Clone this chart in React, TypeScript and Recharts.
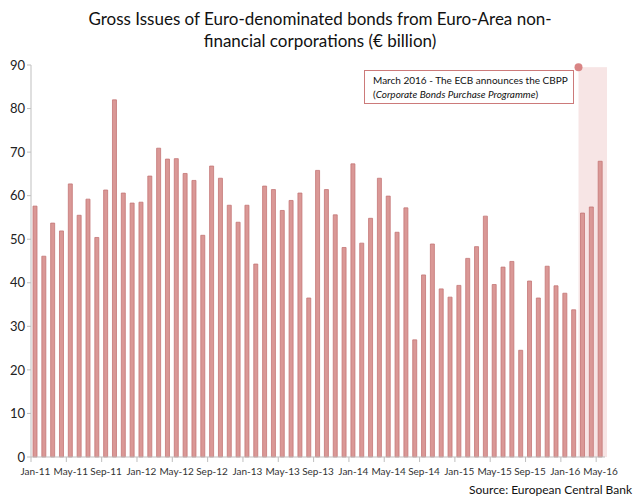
import React from "react";
import { BarChart, Bar, XAxis, YAxis, ReferenceArea } from "recharts";

const months: string[] = [
  "Jan-11","Feb-11","Mar-11","Apr-11","May-11","Jun-11","Jul-11","Aug-11","Sep-11","Oct-11","Nov-11","Dec-11",
  "Jan-12","Feb-12","Mar-12","Apr-12","May-12","Jun-12","Jul-12","Aug-12","Sep-12","Oct-12","Nov-12","Dec-12",
  "Jan-13","Feb-13","Mar-13","Apr-13","May-13","Jun-13","Jul-13","Aug-13","Sep-13","Oct-13","Nov-13","Dec-13",
  "Jan-14","Feb-14","Mar-14","Apr-14","May-14","Jun-14","Jul-14","Aug-14","Sep-14","Oct-14","Nov-14","Dec-14",
  "Jan-15","Feb-15","Mar-15","Apr-15","May-15","Jun-15","Jul-15","Aug-15","Sep-15","Oct-15","Nov-15","Dec-15",
  "Jan-16","Feb-16","Mar-16","Apr-16","May-16",
];

const issues: number[] = [
  57.6, 46.1, 53.7, 51.9, 62.7, 55.5, 59.2, 50.4, 61.3, 82.0, 60.6, 58.3,
  58.5, 64.5, 70.9, 68.4, 68.5, 65.1, 63.5, 50.9, 66.8, 64.0, 57.8, 53.9,
  57.8, 44.3, 62.2, 61.4, 56.6, 58.9, 60.6, 36.5, 65.8, 61.4, 55.6, 48.1,
  67.3, 49.1, 54.8, 64.0, 59.9, 51.6, 57.2, 26.9, 41.8, 48.9, 38.6, 36.7,
  39.4, 45.6, 48.3, 55.3, 39.6, 43.6, 44.9, 24.5, 40.4, 36.5, 43.8, 39.3,
  37.6, 33.8, 56.0, 57.4, 67.9,
];

const yTicks: number[] = [0, 10, 20, 30, 40, 50, 60, 70, 80, 90];

const data = months.map((m, i) => ({ month: m, value: issues[i] }));

const FONT = "Lato, 'Open Sans', sans-serif";

const XTick = (props: any) => {
  const { x, y, payload } = props;
  return (
    <g>
      <line x1={x - 4.4} x2={x - 4.4} y1={y - 8} y2={y - 3} stroke="#bfbfbf" strokeWidth={1} />
      <text x={x} y={y + 10} textAnchor="middle" fontSize={10} fill="#333" fontFamily={FONT}>
        {payload.value}
      </text>
    </g>
  );
};

const ShadeShape = (props: any) => {
  const { x, y, width, height } = props;
  return (
    <g>
      <rect x={x} y={y} width={width + 2} height={height} fill="#f7e5e5" />
      <circle cx={x} cy={y} r={4} fill="#d98585" />
    </g>
  );
};

export default function App() {
  return (
    <div style={{ position: "absolute", left: 0, top: 0, width: 640, height: 504, background: "#fff", fontFamily: FONT }}>
      <div style={{ position: "absolute", left: 0, top: 8, width: 640, textAlign: "center", fontSize: 17, lineHeight: "22px", color: "#111" }}>
        Gross Issues of Euro-denominated bonds from Euro-Area non-
        <br />
        financial corporations (€ billion)
      </div>
      <BarChart
        width={640}
        height={504}
        data={data}
        margin={{ top: 65, right: 35, bottom: 0, left: 0 }}
        barCategoryGap={0}
      >
        <ReferenceArea x1="Mar-16" x2="May-16" y1={0} y2={89.5} shape={ShadeShape} ifOverflow="visible" />
        <XAxis
          dataKey="month"
          interval={3}
          tickLine={false}
          axisLine={{ stroke: "#bfbfbf" }}
          tick={<XTick />}
          height={47}
        />
        <YAxis
          domain={[0, 90]}
          ticks={yTicks}
          width={31}
          axisLine={{ stroke: "#bfbfbf" }}
          tickLine={{ stroke: "#bfbfbf" }}
          tickSize={4}
          tick={{ fontSize: 13, fill: "#222", fontFamily: FONT }}
          interval={0}
        />
        <Bar dataKey="value" fill="#da9896" stroke="#c47676" strokeWidth={0.8} barSize={4} isAnimationActive={false} />
      </BarChart>
      <div
        style={{
          position: "absolute",
          left: 364,
          top: 70,
          width: 210,
          height: 34,
          boxSizing: "border-box",
          whiteSpace: "nowrap",
          border: "1.5px solid #cc7a7a",
          background: "#fff",
          padding: "2px 0 0 8px",
          fontSize: 10,
          lineHeight: "14px",
          color: "#111",
        }}
      >
        March 2016 - The ECB announces the CBPP
        <br />
        (<i>Corporate Bonds Purchase Programme</i>)
      </div>
      <div style={{ position: "absolute", right: 8, top: 482, fontSize: 12, color: "#111" }}>
        Source: European Central Bank
      </div>
    </div>
  );
}
